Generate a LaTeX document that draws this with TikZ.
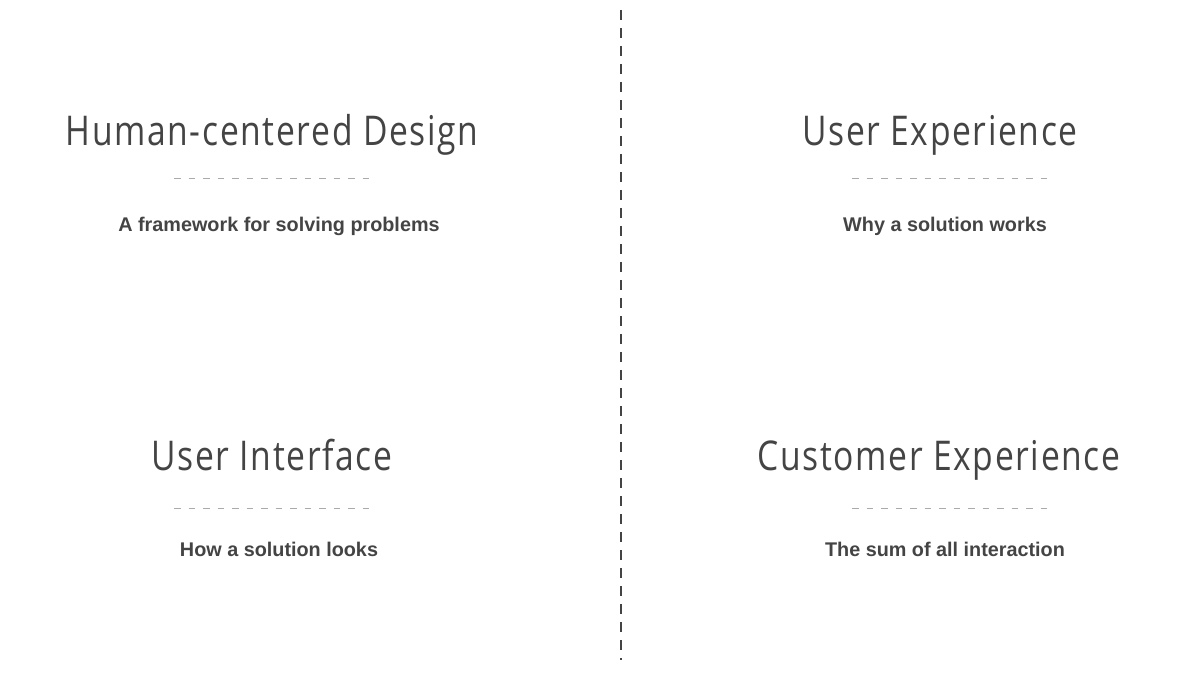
\documentclass[tikz,border=0pt]{standalone}
\usepackage{fontspec}
\newfontfamily\titlefont{Open Sans}[LetterSpace=4,FakeStretch=0.82]
\newfontfamily\subfont{Liberation Sans}
\definecolor{ink}{HTML}{444444}
\definecolor{rule}{HTML}{AAAAAA}
\begin{document}
\begin{tikzpicture}[x=1pt,y=-1pt,
  title/.style={text=ink,font=\titlefont\fontsize{41}{44}\selectfont,anchor=base,inner sep=0},
  sub/.style={text=ink,font=\subfont\bfseries\fontsize{19.8}{22}\selectfont,anchor=base,inner sep=0},
  divider/.style={draw=ink,line width=1.3pt,dash pattern=on 10pt off 8pt},
  hrule/.style={draw=rule,line width=1pt,dash pattern=on 6.5pt off 8pt}]
\useasboundingbox[fill=white] (0,0) rectangle (1200,676);
\coordinate (vtop) at (621,10);
\coordinate (vbot) at (621,660);
\draw[divider] (vtop) -- (vbot);
% top-left
\node[title] (t1) at (272,146) {Human-centered Design};
\coordinate (r1a) at (174,179); \coordinate (r1b) at (369.5,179);
\draw[hrule] (r1a) -- (r1b);
\node[sub] (s1) at (279,232) {A framework for solving problems};
% top-right
\node[title] (t2) at (940,146) {User Experience};
\coordinate (r2a) at (852,179); \coordinate (r2b) at (1047.5,179);
\draw[hrule] (r2a) -- (r2b);
\node[sub] (s2) at (945,232) {Why a solution works};
% bottom-left
\node[title] (t3) at (272,470) {User Interface};
\coordinate (r3a) at (174,508); \coordinate (r3b) at (369.5,508);
\draw[hrule] (r3a) -- (r3b);
\node[sub] (s3) at (279,556) {How a solution looks};
% bottom-right
\node[title] (t4) at (939,470) {Customer Experience};
\coordinate (r4a) at (852,508); \coordinate (r4b) at (1047.5,508);
\draw[hrule] (r4a) -- (r4b);
\node[sub] (s4) at (945,556) {The sum of all interaction};
\end{tikzpicture}
\end{document}
